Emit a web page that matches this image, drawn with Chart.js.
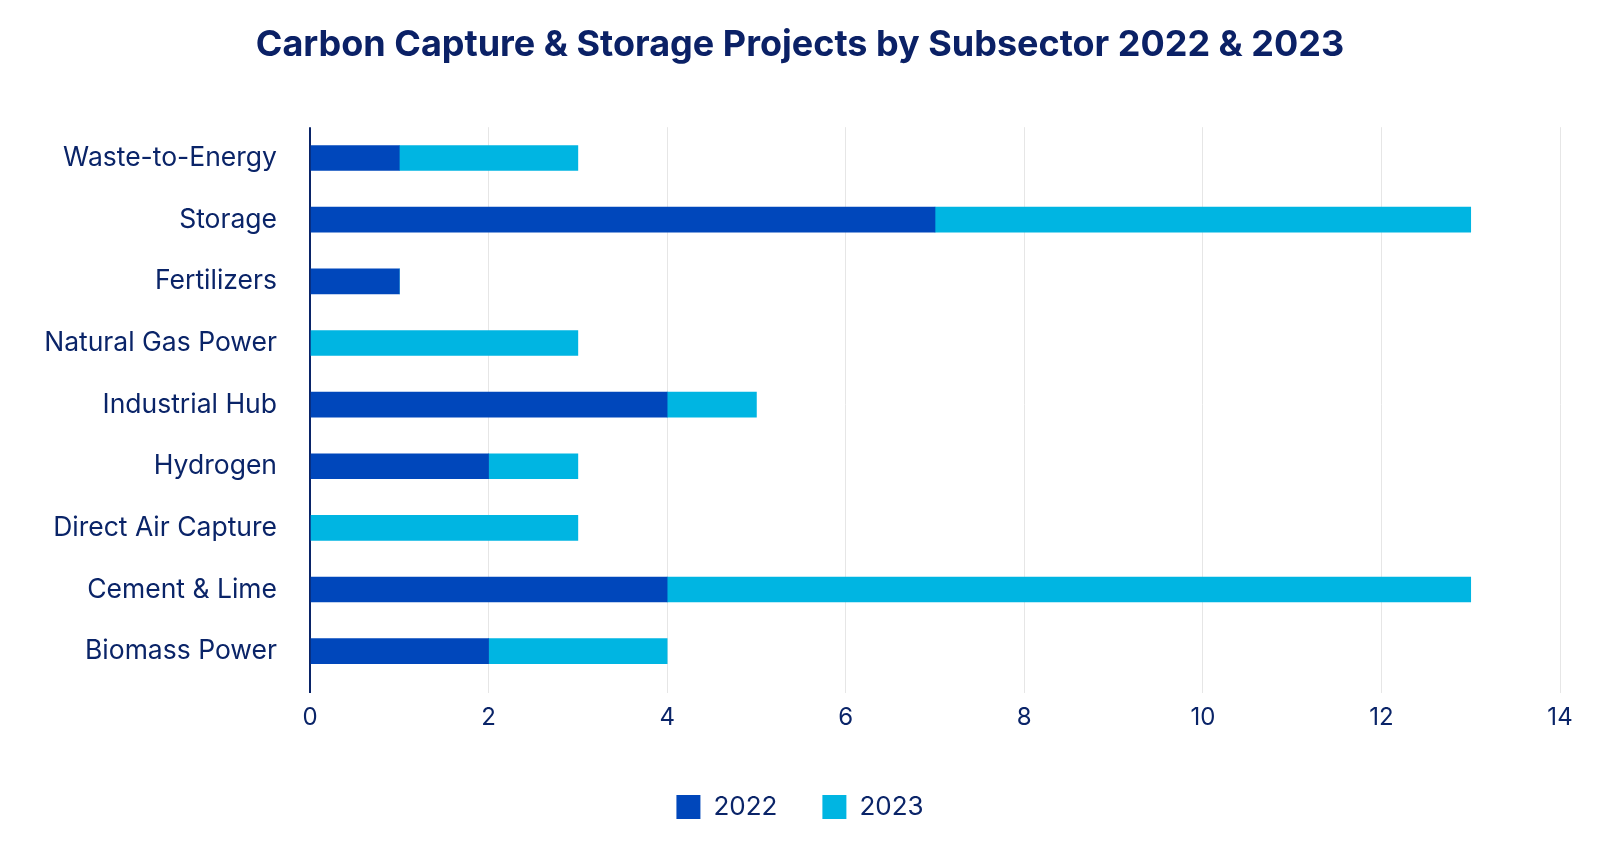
<!DOCTYPE html>
<html>
<head>
<meta charset="utf-8">
<title>Carbon Capture & Storage Projects by Subsector 2022 & 2023</title>
<script src="https://cdn.jsdelivr.net/npm/chart.js@4.4.0/dist/chart.umd.min.js"></script>
<style>
    html, body { margin: 0; padding: 0; background: #ffffff; }
    #box { width: 1600px; height: 850px; }
</style>
</head>
<body>
<div id="box"><canvas id="grafico"></canvas></div>
<script>
const subsetores = ['Waste-to-Energy', 'Storage', 'Fertilizers', 'Natural Gas Power', 'Industrial Hub',
    'Hydrogen', 'Direct Air Capture', 'Cement & Lime', 'Biomass Power'];
const projetos2022 = [1, 7, 1, 0, 4, 2, 0, 4, 2];
const projetos2023 = [2, 6, 0, 3, 1, 1, 3, 9, 2];
const rotulosX = [0, 2, 4, 6, 8, 10, 12, 14];

const azulEscuro = '#0a2468';
const fonte = 'Inter, "Noto Sans", sans-serif';

// legenda com espaço largo entre os itens, mas altura fixa
const ajusteLegenda = {
    id: 'ajusteLegenda',
    beforeInit(chart) {
        const fitOriginal = chart.legend.fit;
        chart.legend.fit = function () {
            fitOriginal.call(this);
            this.height = 101;
        };
    }
};

new Chart(document.getElementById('grafico').getContext('2d'), {
    type: 'bar',
    data: {
        labels: subsetores,
        datasets: [{
            label: '2022',
            data: projetos2022,
            backgroundColor: '#0047bb',
            barThickness: 25
        }, {
            label: '2023',
            data: projetos2023,
            backgroundColor: '#00b5e2',
            barThickness: 25
        }]
    },
    options: {
        indexAxis: 'y',
        responsive: true,
        maintainAspectRatio: false,
        animation: false,
        layout: { padding: { left: 40, right: 40, top: 0, bottom: 0 } },
        scales: {
            x: {
                stacked: true,
                min: 0,
                max: 14,
                afterBuildTicks: scale => {
                    scale.ticks = rotulosX.map(v => ({ value: v }));
                },
                afterFit: scale => { scale.height = 67; },
                border: { display: false },
                grid: {
                    color: ctx => ctx.index === 0 ? azulEscuro : '#e6e6e6',
                    lineWidth: ctx => ctx.index === 0 ? 2 : 1,
                    tickLength: 11
                },
                ticks: {
                    color: azulEscuro,
                    padding: 10,
                    font: { family: fonte, size: 24 }
                }
            },
            y: {
                stacked: true,
                afterFit: scale => { scale.width = 270; },
                border: { display: false },
                grid: { display: false, drawTicks: false },
                ticks: {
                    color: azulEscuro,
                    padding: 33,
                    font: { family: fonte, size: 26.5 }
                }
            }
        },
        plugins: {
            title: {
                display: true,
                text: 'Carbon Capture & Storage Projects by Subsector 2022 & 2023',
                color: '#0b2166',
                font: { family: fonte, size: 36, weight: 'bold' },
                padding: { top: 24, bottom: 60 }
            },
            legend: {
                position: 'bottom',
                labels: {
                    color: azulEscuro,
                    boxWidth: 24,
                    boxHeight: 24,
                    padding: 45,
                    font: { family: fonte, size: 26 }
                }
            },
            tooltip: { enabled: false }
        }
    },
    plugins: [ajusteLegenda]
});
</script>
</body>
</html>
